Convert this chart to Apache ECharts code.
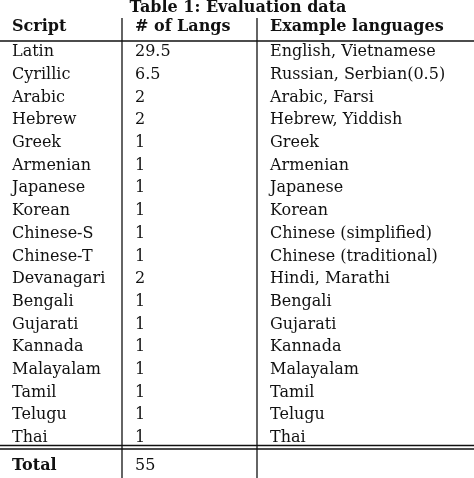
<!DOCTYPE html>
<html><head><meta charset="utf-8">
<script src="https://cdn.jsdelivr.net/npm/echarts@6/dist/echarts.min.js"></script>
<style>html,body{margin:0;padding:0;background:#fff}#c{width:474px;height:478px}</style>
</head><body><div id="c"></div>
<script>
const title = "Table 1: Evaluation data";
const headers = ["Script", "# of Langs", "Example languages"];
const scripts = ["Latin","Cyrillic","Arabic","Hebrew","Greek","Armenian","Japanese","Korean","Chinese-S","Chinese-T","Devanagari","Bengali","Gujarati","Kannada","Malayalam","Tamil","Telugu","Thai"];
const langCounts = ["29.5","6.5","2","2","1","1","1","1","1","1","2","1","1","1","1","1","1","1"];
const examples = ["English, Vietnamese","Russian, Serbian(0.5)","Arabic, Farsi","Hebrew, Yiddish","Greek","Armenian","Japanese","Korean","Chinese (simplified)","Chinese (traditional)","Hindi, Marathi","Bengali","Gujarati","Kannada","Malayalam","Tamil","Telugu","Thai"];
const totalRow = ["Total", "55", ""];

const colX = [12, 135, 270];
const FONT = '"DejaVu Serif",serif';
const SZ = '16px ';
const chart = echarts.init(document.getElementById('c'));
const txt = (x, y, s, bold, align) => ({type:'text', x, y, style:{text:s, x:0, y:0, fill:'#111', font:(bold?'bold ':'')+SZ+FONT, textAlign:align||'left', textVerticalAlign:'middle'}});
const line = (x1,y1,x2,y2) => ({type:'line', shape:{x1,y1,x2,y2}, style:{stroke:'#111', lineWidth:1.3}});
chart.setOption({
  animation:false,
  grid:{left:0,right:0,top:40.6,bottom:28.6},
  xAxis:{type:'value',min:0,max:474,show:false},
  yAxis:{type:'category',data:scripts,inverse:true,show:false},
  graphic:[
    txt(238, 8, title, true, 'center'),
    txt(colX[0], 27, headers[0], true), txt(colX[1], 27, headers[1], true), txt(colX[2], 27, headers[2], true),
    line(0, 41, 474, 41),
    line(122, 18, 122, 478), line(257, 18, 257, 478),
    line(0, 445.5, 474, 445.5), line(0, 449, 474, 449),
    txt(colX[0], 466, totalRow[0], true), txt(colX[1], 466, totalRow[1], false)
  ],
  series:[{
    type:'custom',
    data: scripts.map((s,i)=>[i]),
    renderItem:(params, api)=>{
      const i = api.value(0);
      const y = api.coord([0, i])[1];
      const cells = [scripts[i], langCounts[i], examples[i]];
      return {type:'group', children: cells.map((c,k)=>({type:'text', style:{text:c, x:colX[k], y, fill:'#111', font:SZ+FONT, textVerticalAlign:'middle'}}))};
    },
    encode:{y:0}
  }]
});
</script></body></html>
